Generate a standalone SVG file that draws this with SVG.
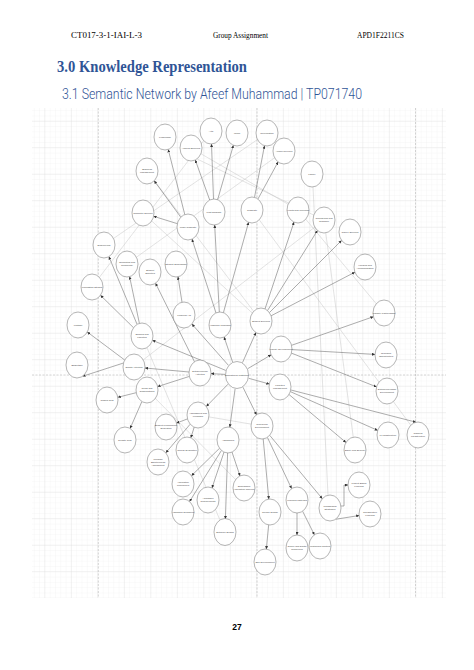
<svg xmlns="http://www.w3.org/2000/svg" width="474" height="670" viewBox="0 0 474 670">
<defs>
<style>
.hd{font-family:"Liberation Serif","Times New Roman",serif;font-size:8.5px;fill:#000}
.n ellipse{fill:#fff;stroke:#6a6a6a;stroke-width:0.5}
.n text{font-family:"Liberation Sans",Arial,sans-serif;font-size:2.4px;fill:#444;text-anchor:middle}
.e{stroke:#5a5a5a;stroke-width:0.5;fill:none;marker-end:url(#ah)}
.f{stroke:#c0c0c0;stroke-width:0.45;fill:none}
.pb{stroke:#b8b8b8;stroke-width:0.6;stroke-dasharray:2 1.5;fill:none}
</style>
<marker id="ah" viewBox="0 0 6 6" refX="6" refY="3" markerWidth="3" markerHeight="3" orient="auto" markerUnits="userSpaceOnUse"><path d="M0,0 L6,3 L0,6 z" fill="#333"/></marker>
<pattern id="minor" width="5.3" height="5.3" patternUnits="userSpaceOnUse" x="18.8" y="15.7"><path d="M5.3 0V5.3H0" fill="none" stroke="#e8e8e8" stroke-width="0.4"/></pattern>
<pattern id="major" width="26.5" height="26.5" patternUnits="userSpaceOnUse" x="18.8" y="15.7"><path d="M26.5 0V26.5H0" fill="none" stroke="#d2d2d2" stroke-width="0.5"/></pattern>
</defs>
<rect width="474" height="670" fill="#fff"/>

<g id="page-text">
<text class="hd" x="71" y="38" textLength="71" lengthAdjust="spacingAndGlyphs">CT017-3-1-IAI-L-3</text>
<text class="hd" x="213" y="38" textLength="55" lengthAdjust="spacingAndGlyphs">Group Assignment</text>
<text class="hd" x="357" y="38" textLength="47" lengthAdjust="spacingAndGlyphs">APD1F2211CS</text>
<text x="57" y="72" font-family="'Liberation Serif','Times New Roman',serif" font-size="17" font-weight="bold" fill="#2f5496" textLength="190" lengthAdjust="spacingAndGlyphs">3.0  Knowledge Representation</text>
<text x="62" y="99" font-family="Roboto,'Liberation Sans',Arial,sans-serif" font-weight="300" font-size="15.5" fill="#2f5496" textLength="300" lengthAdjust="spacingAndGlyphs">3.1 Semantic Network by Afeef Muhammad | TP071740</text>
<text x="237" y="630" text-anchor="middle" font-family="'Liberation Sans',Arial,sans-serif" font-size="8.5" font-weight="bold" fill="#000">27</text>
</g>

<g id="grid">
<rect x="32" y="108" width="414" height="490" fill="url(#minor)"/>
<rect x="32" y="108" width="414" height="490" fill="url(#major)"/>
<path class="pb" d="M98.3 108V598M257 108V598M415.5 108V598M32 375H446"/>
</g>

<g id="connectors">
<g id="assoc">
<path class="f" d="M191,148 L298,210"/>
<path class="f" d="M195,158 L324,220"/>
<path class="f" d="M104,245 L267,133"/>
<path class="f" d="M127,264 L284,151"/>
<path class="f" d="M92,287 L211,131"/>
<path class="f" d="M143,213 L261,321"/>
<path class="f" d="M147,171 L261,321"/>
<path class="f" d="M298,210 L384,313"/>
<path class="f" d="M324,220 L355,450"/>
<path class="f" d="M313,187 L328,495"/>
<path class="f" d="M198,415 L262,426"/>
<path class="f" d="M252,210 L418,435"/>
<path class="f" d="M142,336 L225,532"/>
<path class="f" d="M134,367 L324,220"/>
<path class="f" d="M147,390 L244,488"/>
</g>
<g id="edges">
<path class="e" d="M225,374.4 L211,373.6"/>
<path class="e" d="M248.7,378.3 L269.3,384"/>
<path class="e" d="M247.7,368.7 L271.2,354.8"/>
<path class="e" d="M228,384.2 L206.3,406.5"/>
<path class="e" d="M235.1,388.8 L229.8,427.2"/>
<path class="e" d="M242.9,387.1 L256.5,414.8"/>
<path class="e" d="M242.5,362.6 L255.9,332.5"/>
<path class="e" d="M232.6,362 L224.1,337"/>
<path class="e" d="M228.4,365.3 L191.9,324"/>
<path class="e" d="M225.7,370.4 L152.4,340.3"/>
<path class="e" d="M189,372 L145,368"/>
<path class="e" d="M189.4,376.4 L157.6,386.6"/>
<path class="e" d="M124.7,360 L87.3,332"/>
<path class="e" d="M123.5,363 L82.5,376.3"/>
<path class="e" d="M136.2,392.7 L117.8,397.3"/>
<path class="e" d="M141.9,401.5 L130.1,428.5"/>
<path class="e" d="M137.1,324.4 L108.9,256.6"/>
<path class="e" d="M139.4,323.4 L129.6,276.6"/>
<path class="e" d="M133.5,327.7 L100.5,295.3"/>
<path class="e" d="M194.5,361.8 L155.5,283.2"/>
<path class="e" d="M182,302.3 L178,276.7"/>
<path class="e" d="M216,312.9 L192,239.1"/>
<path class="e" d="M219.3,312 L214.7,225"/>
<path class="e" d="M223.4,312.7 L248.6,222.3"/>
<path class="e" d="M184.8,214.6 L168.2,149.4"/>
<path class="e" d="M180.8,217.2 L154.2,180.8"/>
<path class="e" d="M177.4,223.7 L153.6,216.3"/>
<path class="e" d="M209.7,200 L195.3,160"/>
<path class="e" d="M213.5,199 L211.5,144"/>
<path class="e" d="M217.6,199.7 L233.4,145.3"/>
<path class="e" d="M254.5,197.3 L264.5,145.7"/>
<path class="e" d="M257.9,199.1 L278.1,161.9"/>
<path class="e" d="M265,308.9 L294,222.1"/>
<path class="e" d="M267.5,310.6 L317.5,230.4"/>
<path class="e" d="M269.4,312.6 L341.6,240.4"/>
<path class="e" d="M271.1,315.8 L354.9,272.2"/>
<path class="e" d="M291.6,345.3 L373.4,316.7"/>
<path class="e" d="M292,349.6 L375,354.4"/>
<path class="e" d="M291.4,353.1 L376.6,386.9"/>
<path class="e" d="M291,390 L416,422.2"/>
<path class="e" d="M290.3,391.6 L377.7,430.4"/>
<path class="e" d="M289,394.5 L346,442.5"/>
<path class="e" d="M263.2,438.9 L268.8,499.1"/>
<path class="e" d="M267.4,437.4 L291.6,488.6"/>
<path class="e" d="M269.7,435.3 L322.3,498.7"/>
<path class="e" d="M297,513 L297,535"/>
<path class="e" d="M302.6,511.2 L314.4,534.8"/>
<path class="e" d="M268.7,524.9 L266.3,549.1"/>
<path class="e" d="M341,506 H344 V485 H348"/>
<path class="e" d="M335.5,519.3 L359.2,515.5"/>
<path class="e" d="M219.5,448.3 L191.5,475.7"/>
<path class="e" d="M221.5,450.4 L189.5,501.6"/>
<path class="e" d="M224,452.1 L212,487.9"/>
<path class="e" d="M227.6,453 L225.4,519"/>
<path class="e" d="M232,452.1 L240,475.9"/>
<path class="e" d="M187.5,418.9 L176.5,423.1"/>
<path class="e" d="M194.2,427.2 L190.8,437.8"/>
<path class="e" d="M190.2,424.2 L165.8,452.8"/>
</g>
</g>

<g id="nodes">
<g id="n-leadership" class="n"><ellipse cx="165" cy="137" rx="11" ry="13"/><text x="165" y="137.8">Leadership</text></g>
<g id="n-arts" class="n"><ellipse cx="211" cy="131" rx="11" ry="13"/><text x="211" y="131.8">Arts</text></g>
<g id="n-music" class="n"><ellipse cx="237" cy="133" rx="11" ry="13"/><text x="237" y="133.8">Music</text></g>
<g id="n-convocation" class="n"><ellipse cx="267" cy="133" rx="11" ry="13"/><text x="267" y="133.8">Convocation</text></g>
<g id="n-applied" class="n"><ellipse cx="191" cy="148" rx="11" ry="13"/><text x="191" y="148.8">Applied Sciences</text></g>
<g id="n-alumni" class="n"><ellipse cx="284" cy="151" rx="11" ry="13"/><text x="284" y="151.8">Alumni services</text></g>
<g id="n-library" class="n"><ellipse cx="312" cy="174" rx="11" ry="13"/><text x="312" y="174.8">Library</text></g>
<g id="n-business" class="n"><ellipse cx="147" cy="171" rx="11" ry="13"/><text x="147" y="170.3"><tspan x="147">Business</tspan><tspan x="147" dy="3">Management</tspan></text></g>
<g id="n-compsci" class="n"><ellipse cx="143" cy="213" rx="11" ry="13"/><text x="143" y="213.8">Computer Science</text></g>
<g id="n-postgrad" class="n"><ellipse cx="214" cy="212" rx="11" ry="13"/><text x="214" y="212.8">Post graduate</text></g>
<g id="n-undergrad" class="n"><ellipse cx="188" cy="227" rx="11" ry="13"/><text x="188" y="227.8">Under graduate</text></g>
<g id="n-graduate" class="n"><ellipse cx="252" cy="210" rx="11" ry="13"/><text x="252" y="210.8">Graduate</text></g>
<g id="n-health" class="n"><ellipse cx="298" cy="210" rx="11" ry="13"/><text x="298" y="210.8">Health and Wellness</text></g>
<g id="n-counselling" class="n"><ellipse cx="324" cy="220" rx="11" ry="13"/><text x="324" y="219.3"><tspan x="324">Counselling and</tspan><tspan x="324" dy="3">Guidance</tspan></text></g>
<g id="n-career" class="n"><ellipse cx="350" cy="232" rx="11" ry="13"/><text x="350" y="232.8">Career Services</text></g>
<g id="n-engineering" class="n"><ellipse cx="104" cy="245" rx="11" ry="13"/><text x="104" y="245.8">Engineering</text></g>
<g id="n-computing" class="n"><ellipse cx="127" cy="264" rx="11" ry="13"/><text x="127" y="263.3"><tspan x="127">Computing and</tspan><tspan x="127" dy="3">Technology</tspan></text></g>
<g id="n-societies" class="n"><ellipse cx="150" cy="272" rx="11" ry="13"/><text x="150" y="271.3"><tspan x="150">Student</tspan><tspan x="150" dy="3">Societies</tspan></text></g>
<g id="n-scholarship" class="n"><ellipse cx="176" cy="264" rx="11" ry="13"/><text x="176" y="264.8">Student Scholarship</text></g>
<g id="n-foundation" class="n"><ellipse cx="92" cy="287" rx="11" ry="13"/><text x="92" y="287.8">Foundation Studies</text></g>
<g id="n-housing" class="n"><ellipse cx="365" cy="267" rx="11" ry="13"/><text x="365" y="266.3"><tspan x="365">Housing and</tspan><tspan x="365" dy="3">Accommodation</tspan></text></g>
<g id="n-football" class="n"><ellipse cx="78" cy="325" rx="11" ry="13"/><text x="78" y="325.8">Football</text></g>
<g id="n-finaid" class="n"><ellipse cx="184" cy="315" rx="11" ry="13"/><text x="184" y="315.8">Financial Aid</text></g>
<g id="n-programs" class="n"><ellipse cx="220" cy="325" rx="11" ry="13"/><text x="220" y="325.8">Academic Programs</text></g>
<g id="n-services" class="n"><ellipse cx="261" cy="321" rx="11" ry="13"/><text x="261" y="321.8">Student Services</text></g>
<g id="n-schools" class="n"><ellipse cx="142" cy="336" rx="11" ry="13"/><text x="142" y="335.3"><tspan x="142">Schools and</tspan><tspan x="142" dy="3">Faculties</tspan></text></g>
<g id="n-industry" class="n"><ellipse cx="384" cy="313" rx="11" ry="13"/><text x="384" y="313.8">Industry Partnerships</text></g>
<g id="n-faculty" class="n"><ellipse cx="281" cy="349" rx="11" ry="13"/><text x="281" y="349.8">Faculty Development</text></g>
<g id="n-research" class="n"><ellipse cx="386" cy="355" rx="11" ry="13"/><text x="386" y="354.3"><tspan x="386">Research</tspan><tspan x="386" dy="3">Opportunities</tspan></text></g>
<g id="n-basketball" class="n"><ellipse cx="77" cy="365" rx="11" ry="13"/><text x="77" y="365.8">Basketball</text></g>
<g id="n-sports" class="n"><ellipse cx="134" cy="367" rx="11" ry="13"/><text x="134" y="367.8">Sports Activities</text></g>
<g id="n-clubs" class="n"><ellipse cx="147" cy="390" rx="11" ry="13"/><text x="147" y="389.3"><tspan x="147">Clubs and</tspan><tspan x="147" dy="3">Organizations</tspan></text></g>
<g id="n-coding" class="n"><ellipse cx="107" cy="400" rx="11" ry="13"/><text x="107" y="400.8">Coding Club</text></g>
<g id="n-debate" class="n"><ellipse cx="125" cy="440" rx="11" ry="13"/><text x="125" y="440.8">Debate Club</text></g>
<g id="n-extra" class="n"><ellipse cx="200" cy="373" rx="11" ry="13"/><text x="200" y="372.3"><tspan x="200">Extracurricular</tspan><tspan x="200" dy="3">Activities</tspan></text></g>
<g id="n-institution" class="n"><ellipse cx="237" cy="375" rx="11.5" ry="13.5"/><text x="237" y="375.8">Educational Institution</text></g>
<g id="n-facilities" class="n"><ellipse cx="280" cy="387" rx="11" ry="13"/><text x="280" y="386.3"><tspan x="280">Facilities</tspan><tspan x="280" dy="3">Management</tspan></text></g>
<g id="n-entre" class="n"><ellipse cx="387" cy="391" rx="11" ry="13"/><text x="387" y="390.3"><tspan x="387">Entrepreneurship</tspan><tspan x="387" dy="3">Development</tspan></text></g>
<g id="n-assessment" class="n"><ellipse cx="198" cy="415" rx="11" ry="13"/><text x="198" y="414.3"><tspan x="198">Assessment and</tspan><tspan x="198" dy="3">Feedback</tspan></text></g>
<g id="n-studeval" class="n"><ellipse cx="166" cy="427" rx="11" ry="13"/><text x="166" y="426.3"><tspan x="166">Student Performance</tspan><tspan x="166" dy="3">Evaluation</tspan></text></g>
<g id="n-courseeval" class="n"><ellipse cx="187" cy="450" rx="11" ry="13"/><text x="187" y="450.8">Course Evaluation</text></g>
<g id="n-admissions" class="n"><ellipse cx="228" cy="440" rx="11" ry="13"/><text x="228" y="440.8">Admissions</text></g>
<g id="n-curriculum" class="n"><ellipse cx="262" cy="426" rx="11" ry="13"/><text x="262" y="425.3"><tspan x="262">Curriculum</tspan><tspan x="262" dy="3">Development</tspan></text></g>
<g id="n-program-eff" class="n"><ellipse cx="158" cy="462" rx="11" ry="13"/><text x="158" y="459.8"><tspan x="158">Program</tspan><tspan x="158" dy="3">Effectiveness</tspan><tspan x="158" dy="3">Assessment</tspan></text></g>
<g id="n-it" class="n"><ellipse cx="388" cy="435" rx="11" ry="13"/><text x="388" y="435.8">IT Infrastructure</text></g>
<g id="n-campus" class="n"><ellipse cx="418" cy="435" rx="11" ry="13"/><text x="418" y="434.3"><tspan x="418">Campus</tspan><tspan x="418" dy="3">Infrastructure</tspan></text></g>
<g id="n-safety" class="n"><ellipse cx="355" cy="450" rx="11" ry="13"/><text x="355" y="450.8">Safety and Security</text></g>
<g id="n-appproc" class="n"><ellipse cx="183" cy="484" rx="11" ry="13"/><text x="183" y="483.3"><tspan x="183">Application</tspan><tspan x="183" dy="3">Procedures</tspan></text></g>
<g id="n-requirements" class="n"><ellipse cx="208" cy="500" rx="11" ry="13"/><text x="208" y="499.3"><tspan x="208">Admission</tspan><tspan x="208" dy="3">Requirements</tspan></text></g>
<g id="n-timeline" class="n"><ellipse cx="244" cy="488" rx="11" ry="13"/><text x="244" y="487.3"><tspan x="244">Scholarship</tspan><tspan x="244" dy="3">Application Timeline</tspan></text></g>
<g id="n-deadlines" class="n"><ellipse cx="183" cy="512" rx="11" ry="13"/><text x="183" y="512.8">Admission Deadlines</text></g>
<g id="n-entrance" class="n"><ellipse cx="225" cy="532" rx="11" ry="13.5"/><text x="225" y="532.8">Entrance Exams</text></g>
<g id="n-coursedesign" class="n"><ellipse cx="270" cy="512" rx="11" ry="13"/><text x="270" y="512.8">Course Design</text></g>
<g id="n-materials" class="n"><ellipse cx="297" cy="500" rx="11" ry="13"/><text x="297" y="500.8">Learning Materials</text></g>
<g id="n-skill" class="n"><ellipse cx="265" cy="562" rx="11" ry="13"/><text x="265" y="562.8">Skill Development</text></g>
<g id="n-online" class="n"><ellipse cx="297" cy="548" rx="11" ry="13"/><text x="297" y="547.3"><tspan x="297">Online and Digital</tspan><tspan x="297" dy="3">Resources</tspan></text></g>
<g id="n-multimedia" class="n"><ellipse cx="320" cy="546" rx="11" ry="13"/><text x="320" y="546.8">Multimedia Content</text></g>
<g id="n-pedagogy" class="n"><ellipse cx="330" cy="508" rx="11" ry="13"/><text x="330" y="507.3"><tspan x="330">Pedagogical</tspan><tspan x="330" dy="3">Strategies</tspan></text></g>
<g id="n-pbl" class="n"><ellipse cx="359" cy="485" rx="11" ry="13"/><text x="359" y="484.3"><tspan x="359">Project Based</tspan><tspan x="359" dy="3">Learning</tspan></text></g>
<g id="n-collab" class="n"><ellipse cx="370" cy="514" rx="11" ry="13"/><text x="370" y="513.3"><tspan x="370">Collaborative</tspan><tspan x="370" dy="3">Learning</tspan></text></g>
</g>
</svg>
